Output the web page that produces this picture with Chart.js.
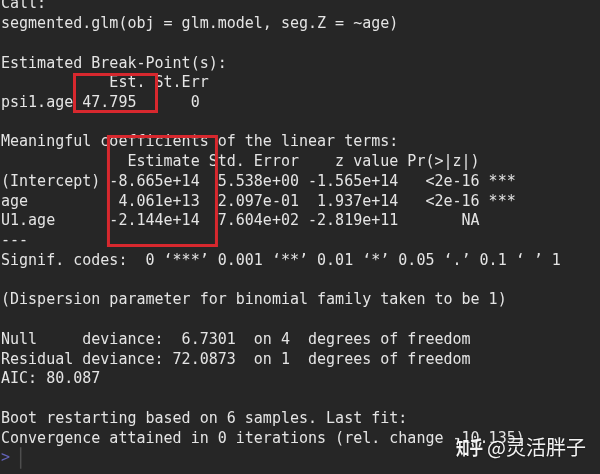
<!DOCTYPE html>
<html>
<head>
<meta charset="utf-8">
<style>
  body { margin: 0; background: #262626; }
  #wrap { width: 600px; height: 474px; }
  #c { display: block; }
</style>
<script src="https://cdn.jsdelivr.net/npm/chart.js@4.4.0/dist/chart.umd.min.js"></script>
</head>
<body>
<div id="wrap"><canvas id="c"></canvas></div>
<script>
// console output, one entry per line (y = line index, x = character column)
const consoleLines = [
  "Call:",
  "segmented.glm(obj = glm.model, seg.Z = ~age)",
  "",
  "Estimated Break-Point(s):",
  "            Est. St.Err",
  "psi1.age 47.795      0",
  "",
  "Meaningful coefficients of the linear terms:",
  "              Estimate Std. Error    z value Pr(>|z|)",
  "(Intercept) -8.665e+14  5.538e+00 -1.565e+14   <2e-16 ***",
  "age          4.061e+13  2.097e-01  1.937e+14   <2e-16 ***",
  "U1.age      -2.144e+14  7.604e+02 -2.819e+11       NA",
  "---",
  "Signif. codes:  0 \u2018***\u2019 0.001 \u2018**\u2019 0.01 \u2018*\u2019 0.05 \u2018.\u2019 0.1 \u2018 \u2019 1",
  "",
  "(Dispersion parameter for binomial family taken to be 1)",
  "",
  "Null     deviance:  6.7301  on 4  degrees of freedom",
  "Residual deviance: 72.0873  on 1  degrees of freedom",
  "AIC: 80.087",
  "",
  "Boot restarting based on 6 samples. Last fit:",
  "Convergence attained in 0 iterations (rel. change -10.135)",
  ">"
];
const promptLine = 23;

// red highlight boxes: [colFrom, colTo, lineFrom, lineTo]
const boxBreakPoint = [8.14, 17.22, 3.35, 5.23];
const boxEstimate = [11.9, 23.86, 6.49, 12.01];

// cursor after the prompt: [col, lineFrom, lineTo]
const cursorBar = [2.18, 22.27, 23.29];

// watermark
const watermarkLogo = "知乎";
const watermarkUser = "@灵活胖子";
const watermarkAt = [50.4, 22.63];

function rect(b) {
  return [
    { x: b[0], y: b[2] }, { x: b[1], y: b[2] },
    { x: b[1], y: b[3] }, { x: b[0], y: b[3] },
    { x: b[0], y: b[2] }
  ];
}

const CH_W = 9.03, LINE_H = 19.74;
const xMin = -1 / CH_W, yMin = -8.3 / LINE_H;

const bgPlugin = {
  id: "bg",
  beforeDraw(chart) {
    const ctx = chart.ctx;
    ctx.save();
    ctx.fillStyle = "#262626";
    ctx.fillRect(0, 0, chart.width, chart.height);
    ctx.restore();
  }
};

const textPlugin = {
  id: "consoleText",
  beforeDatasetsDraw(chart) {
    const ctx = chart.ctx;
    const xs = chart.scales.x, ys = chart.scales.y;
    ctx.save();
    ctx.font = "15px 'DejaVu Sans Mono'";
    ctx.textBaseline = "alphabetic";
    ctx.textAlign = "left";
    consoleLines.forEach((line, i) => {
      ctx.fillStyle = i === promptLine ? "#6262b8" : "#e4e4e4";
      const y = ys.getPixelForValue(i);
      for (let c = 0; c < line.length; c++) {
        if (line[c] === " ") continue;
        ctx.fillText(line[c], xs.getPixelForValue(c), y);
      }
    });
    ctx.restore();
  },
  afterDatasetsDraw(chart) {
    const ctx = chart.ctx;
    const xs = chart.scales.x, ys = chart.scales.y;
    let x = xs.getPixelForValue(watermarkAt[0]);
    const y = ys.getPixelForValue(watermarkAt[1]);
    ctx.save();
    ctx.fillStyle = "rgba(255,255,255,0.95)";
    ctx.shadowColor = "rgba(0,0,0,0.6)";
    ctx.shadowBlur = 2;
    ctx.textBaseline = "alphabetic";
    ctx.font = "bold 19px 'Noto Sans CJK SC'";
    const w = ctx.measureText(watermarkLogo).width;
    ctx.save();
    ctx.translate(x, y);
    ctx.scale(27 / w, 1);
    ctx.fillText(watermarkLogo, 0, 0);
    ctx.restore();
    x += 31;
    ctx.font = "20px 'Noto Sans CJK SC'";
    ctx.fillText(watermarkUser, x, y);
    ctx.restore();
  }
};

new Chart(document.getElementById("c"), {
  type: "line",
  data: {
    datasets: [
      { data: rect(boxBreakPoint), borderColor: "#d7282e", borderWidth: 3 },
      { data: rect(boxEstimate), borderColor: "#d7282e", borderWidth: 3 },
      {
        data: [{ x: cursorBar[0], y: cursorBar[1] }, { x: cursorBar[0], y: cursorBar[2] }],
        borderColor: "#4e4e4e", borderWidth: 1.5
      }
    ]
  },
  options: {
    responsive: true,
    maintainAspectRatio: false,
    animation: false,
    layout: { padding: 0 },
    elements: {
      line: { tension: 0, fill: false, borderJoinStyle: "miter", borderCapStyle: "square" },
      point: { radius: 0, hoverRadius: 0 }
    },
    scales: {
      x: { type: "linear", display: false, min: xMin, max: xMin + 600 / CH_W },
      y: { type: "linear", display: false, reverse: true, min: yMin, max: yMin + 474 / LINE_H }
    },
    plugins: {
      legend: { display: false },
      tooltip: { enabled: false }
    }
  },
  plugins: [bgPlugin, textPlugin]
});
</script>
</body>
</html>
